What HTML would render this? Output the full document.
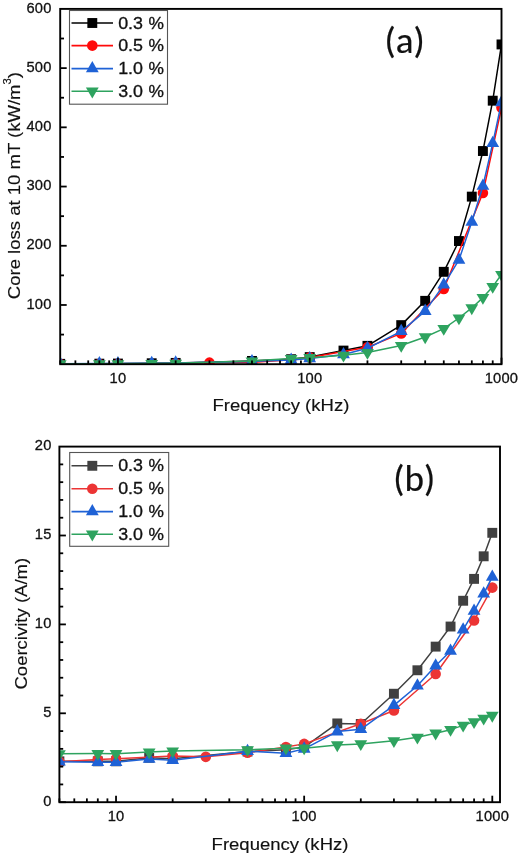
<!DOCTYPE html>
<html><head><meta charset="utf-8"><title>Core loss and coercivity vs frequency</title>
<style>
html,body{margin:0;padding:0;background:#fff;width:520px;height:855px;overflow:hidden}
svg{display:block}
.tk{font-family:"Liberation Sans", Arial, sans-serif;font-size:14.7px;fill:#111;letter-spacing:0.2px;stroke:#111;stroke-width:0.3px}
.lg{font-family:"Liberation Sans", Arial, sans-serif;font-size:15.8px;fill:#111;stroke:#111;stroke-width:0.3px}
.al{font-family:"Liberation Sans", Arial, sans-serif;font-size:16.4px;fill:#111;stroke:#111;stroke-width:0.15px}
.pl{font-family:"Carlito", "Liberation Sans", sans-serif;font-size:37px;fill:#111;stroke:#111;stroke-width:0.2px}
</style></head><body>
<svg width="520" height="855" viewBox="0 0 520 855">
<rect width="520" height="855" fill="#fff"/>
<clipPath id="ca"><rect x="60.2" y="8.9" width="441.3" height="355.3"/></clipPath>
<g clip-path="url(#ca)">
<polyline fill="none" stroke="#000000" stroke-width="1.5" stroke-linejoin="round" points="60.2,363.84 99.35,363.67 117.93,363.55 151.7,363.25 175.67,362.9 251.98,360.94 291.13,359.23 309.72,357.09 343.49,350.58 367.45,345.84 401.22,325.12 425.18,300.84 443.77,271.82 458.95,241.03 471.79,196.62 482.91,151.02 492.72,100.69 501.5,44.43"/>
<rect x="55.25" y="358.89" width="9.9" height="9.9" fill="#000000"/>
<rect x="94.4" y="358.72" width="9.9" height="9.9" fill="#000000"/>
<rect x="112.98" y="358.6" width="9.9" height="9.9" fill="#000000"/>
<rect x="146.75" y="358.3" width="9.9" height="9.9" fill="#000000"/>
<rect x="170.72" y="357.95" width="9.9" height="9.9" fill="#000000"/>
<rect x="247.03" y="355.99" width="9.9" height="9.9" fill="#000000"/>
<rect x="286.18" y="354.28" width="9.9" height="9.9" fill="#000000"/>
<rect x="304.77" y="352.14" width="9.9" height="9.9" fill="#000000"/>
<rect x="338.54" y="345.63" width="9.9" height="9.9" fill="#000000"/>
<rect x="362.5" y="340.89" width="9.9" height="9.9" fill="#000000"/>
<rect x="396.27" y="320.17" width="9.9" height="9.9" fill="#000000"/>
<rect x="420.23" y="295.89" width="9.9" height="9.9" fill="#000000"/>
<rect x="438.82" y="266.87" width="9.9" height="9.9" fill="#000000"/>
<rect x="454" y="236.08" width="9.9" height="9.9" fill="#000000"/>
<rect x="466.84" y="191.67" width="9.9" height="9.9" fill="#000000"/>
<rect x="477.96" y="146.07" width="9.9" height="9.9" fill="#000000"/>
<rect x="487.77" y="95.74" width="9.9" height="9.9" fill="#000000"/>
<rect x="496.55" y="39.48" width="9.9" height="9.9" fill="#000000"/>
<polyline fill="none" stroke="#ff0a0a" stroke-width="1.5" stroke-linejoin="round" points="60.2,364.08 99.35,364.02 117.93,363.96 175.67,363.31 209.44,362.66 251.98,362.42 291.13,359.76 309.72,357.39 367.45,347.32 401.22,333.41 443.77,288.99 482.91,193.06 501.5,107.79"/>
<circle cx="60.2" cy="364.08" r="5.3" fill="#ff0a0a"/>
<circle cx="99.35" cy="364.02" r="5.3" fill="#ff0a0a"/>
<circle cx="117.93" cy="363.96" r="5.3" fill="#ff0a0a"/>
<circle cx="175.67" cy="363.31" r="5.3" fill="#ff0a0a"/>
<circle cx="209.44" cy="362.66" r="5.3" fill="#ff0a0a"/>
<circle cx="251.98" cy="362.42" r="5.3" fill="#ff0a0a"/>
<circle cx="291.13" cy="359.76" r="5.3" fill="#ff0a0a"/>
<circle cx="309.72" cy="357.39" r="5.3" fill="#ff0a0a"/>
<circle cx="367.45" cy="347.32" r="5.3" fill="#ff0a0a"/>
<circle cx="401.22" cy="333.41" r="5.3" fill="#ff0a0a"/>
<circle cx="443.77" cy="288.99" r="5.3" fill="#ff0a0a"/>
<circle cx="482.91" cy="193.06" r="5.3" fill="#ff0a0a"/>
<circle cx="501.5" cy="107.79" r="5.3" fill="#ff0a0a"/>
<polyline fill="none" stroke="#1f62d6" stroke-width="1.5" stroke-linejoin="round" points="60.2,363.79 99.35,363.61 117.93,363.49 151.7,363.19 175.67,362.9 251.98,361.42 291.13,360.05 309.72,358.52 343.49,354.43 367.45,348.21 401.22,331.33 425.18,311.14 443.77,284.85 458.95,259.98 471.79,222.08 482.91,185.96 492.72,143.32 501.5,102.46"/>
<polygon points="60.2,356.25 66.6,367.55 53.8,367.55" fill="#1f62d6"/>
<polygon points="99.35,356.07 105.75,367.37 92.95,367.37" fill="#1f62d6"/>
<polygon points="117.93,355.96 124.33,367.26 111.53,367.26" fill="#1f62d6"/>
<polygon points="151.7,355.66 158.1,366.96 145.3,366.96" fill="#1f62d6"/>
<polygon points="175.67,355.36 182.07,366.66 169.27,366.66" fill="#1f62d6"/>
<polygon points="251.98,353.88 258.38,365.18 245.58,365.18" fill="#1f62d6"/>
<polygon points="291.13,352.52 297.53,363.82 284.73,363.82" fill="#1f62d6"/>
<polygon points="309.72,350.98 316.12,362.28 303.32,362.28" fill="#1f62d6"/>
<polygon points="343.49,346.9 349.89,358.2 337.09,358.2" fill="#1f62d6"/>
<polygon points="367.45,340.68 373.85,351.98 361.05,351.98" fill="#1f62d6"/>
<polygon points="401.22,323.8 407.62,335.1 394.82,335.1" fill="#1f62d6"/>
<polygon points="425.18,303.61 431.58,314.91 418.78,314.91" fill="#1f62d6"/>
<polygon points="443.77,277.32 450.17,288.62 437.37,288.62" fill="#1f62d6"/>
<polygon points="458.95,252.45 465.35,263.75 452.55,263.75" fill="#1f62d6"/>
<polygon points="471.79,214.55 478.19,225.85 465.39,225.85" fill="#1f62d6"/>
<polygon points="482.91,178.42 489.31,189.72 476.51,189.72" fill="#1f62d6"/>
<polygon points="492.72,135.79 499.12,147.09 486.32,147.09" fill="#1f62d6"/>
<polygon points="501.5,94.93 507.9,106.23 495.1,106.23" fill="#1f62d6"/>
<polyline fill="none" stroke="#2ea35f" stroke-width="1.5" stroke-linejoin="round" points="60.2,363.96 99.35,363.84 117.93,363.73 151.7,363.49 175.67,363.25 251.98,361 291.13,358.52 309.72,357.69 343.49,355.32 367.45,352.48 401.22,345.55 425.18,336.96 443.77,328.67 458.95,318.01 471.79,307.94 482.91,297.58 492.72,286.63 501.5,274.49"/>
<polygon points="53.8,360.36 66.6,360.36 60.2,371.16" fill="#2ea35f"/>
<polygon points="92.95,360.24 105.75,360.24 99.35,371.04" fill="#2ea35f"/>
<polygon points="111.53,360.13 124.33,360.13 117.93,370.93" fill="#2ea35f"/>
<polygon points="145.3,359.89 158.1,359.89 151.7,370.69" fill="#2ea35f"/>
<polygon points="169.27,359.65 182.07,359.65 175.67,370.45" fill="#2ea35f"/>
<polygon points="245.58,357.4 258.38,357.4 251.98,368.2" fill="#2ea35f"/>
<polygon points="284.73,354.92 297.53,354.92 291.13,365.72" fill="#2ea35f"/>
<polygon points="303.32,354.09 316.12,354.09 309.72,364.89" fill="#2ea35f"/>
<polygon points="337.09,351.72 349.89,351.72 343.49,362.52" fill="#2ea35f"/>
<polygon points="361.05,348.88 373.85,348.88 367.45,359.68" fill="#2ea35f"/>
<polygon points="394.82,341.95 407.62,341.95 401.22,352.75" fill="#2ea35f"/>
<polygon points="418.78,333.36 431.58,333.36 425.18,344.16" fill="#2ea35f"/>
<polygon points="437.37,325.07 450.17,325.07 443.77,335.87" fill="#2ea35f"/>
<polygon points="452.55,314.41 465.35,314.41 458.95,325.21" fill="#2ea35f"/>
<polygon points="465.39,304.34 478.19,304.34 471.79,315.14" fill="#2ea35f"/>
<polygon points="476.51,293.98 489.31,293.98 482.91,304.78" fill="#2ea35f"/>
<polygon points="486.32,283.03 499.12,283.03 492.72,293.83" fill="#2ea35f"/>
<polygon points="495.1,270.89 507.9,270.89 501.5,281.69" fill="#2ea35f"/>
</g>
<rect x="60.2" y="8.9" width="441.3" height="355.3" fill="none" stroke="#000" stroke-width="1.9"/>
<line x1="60.2" y1="304.98" x2="66.7" y2="304.98" stroke="#000" stroke-width="1.8"/>
<line x1="60.2" y1="245.77" x2="66.7" y2="245.77" stroke="#000" stroke-width="1.8"/>
<line x1="60.2" y1="186.55" x2="66.7" y2="186.55" stroke="#000" stroke-width="1.8"/>
<line x1="60.2" y1="127.33" x2="66.7" y2="127.33" stroke="#000" stroke-width="1.8"/>
<line x1="60.2" y1="68.12" x2="66.7" y2="68.12" stroke="#000" stroke-width="1.8"/>
<line x1="60.2" y1="334.59" x2="64" y2="334.59" stroke="#000" stroke-width="1.8"/>
<line x1="60.2" y1="275.38" x2="64" y2="275.38" stroke="#000" stroke-width="1.8"/>
<line x1="60.2" y1="216.16" x2="64" y2="216.16" stroke="#000" stroke-width="1.8"/>
<line x1="60.2" y1="156.94" x2="64" y2="156.94" stroke="#000" stroke-width="1.8"/>
<line x1="60.2" y1="97.72" x2="64" y2="97.72" stroke="#000" stroke-width="1.8"/>
<line x1="60.2" y1="38.51" x2="64" y2="38.51" stroke="#000" stroke-width="1.8"/>
<line x1="60.2" y1="364.2" x2="60.2" y2="360.4" stroke="#000" stroke-width="1.8"/>
<line x1="75.39" y1="364.2" x2="75.39" y2="360.4" stroke="#000" stroke-width="1.8"/>
<line x1="88.22" y1="364.2" x2="88.22" y2="360.4" stroke="#000" stroke-width="1.8"/>
<line x1="99.35" y1="364.2" x2="99.35" y2="360.4" stroke="#000" stroke-width="1.8"/>
<line x1="109.16" y1="364.2" x2="109.16" y2="360.4" stroke="#000" stroke-width="1.8"/>
<line x1="117.93" y1="364.2" x2="117.93" y2="357.7" stroke="#000" stroke-width="1.8"/>
<line x1="175.67" y1="364.2" x2="175.67" y2="360.4" stroke="#000" stroke-width="1.8"/>
<line x1="209.44" y1="364.2" x2="209.44" y2="360.4" stroke="#000" stroke-width="1.8"/>
<line x1="233.4" y1="364.2" x2="233.4" y2="360.4" stroke="#000" stroke-width="1.8"/>
<line x1="251.98" y1="364.2" x2="251.98" y2="360.4" stroke="#000" stroke-width="1.8"/>
<line x1="267.17" y1="364.2" x2="267.17" y2="360.4" stroke="#000" stroke-width="1.8"/>
<line x1="280.01" y1="364.2" x2="280.01" y2="360.4" stroke="#000" stroke-width="1.8"/>
<line x1="291.13" y1="364.2" x2="291.13" y2="360.4" stroke="#000" stroke-width="1.8"/>
<line x1="300.94" y1="364.2" x2="300.94" y2="360.4" stroke="#000" stroke-width="1.8"/>
<line x1="309.72" y1="364.2" x2="309.72" y2="357.7" stroke="#000" stroke-width="1.8"/>
<line x1="367.45" y1="364.2" x2="367.45" y2="360.4" stroke="#000" stroke-width="1.8"/>
<line x1="401.22" y1="364.2" x2="401.22" y2="360.4" stroke="#000" stroke-width="1.8"/>
<line x1="425.18" y1="364.2" x2="425.18" y2="360.4" stroke="#000" stroke-width="1.8"/>
<line x1="443.77" y1="364.2" x2="443.77" y2="360.4" stroke="#000" stroke-width="1.8"/>
<line x1="458.95" y1="364.2" x2="458.95" y2="360.4" stroke="#000" stroke-width="1.8"/>
<line x1="471.79" y1="364.2" x2="471.79" y2="360.4" stroke="#000" stroke-width="1.8"/>
<line x1="482.91" y1="364.2" x2="482.91" y2="360.4" stroke="#000" stroke-width="1.8"/>
<line x1="492.72" y1="364.2" x2="492.72" y2="360.4" stroke="#000" stroke-width="1.8"/>
<line x1="501.5" y1="364.2" x2="501.5" y2="357.7" stroke="#000" stroke-width="1.8"/>
<text x="51.5" y="308.68" text-anchor="end" class="tk">100</text>
<text x="51.5" y="249.47" text-anchor="end" class="tk">200</text>
<text x="51.5" y="190.25" text-anchor="end" class="tk">300</text>
<text x="51.5" y="131.03" text-anchor="end" class="tk">400</text>
<text x="51.5" y="71.82" text-anchor="end" class="tk">500</text>
<text x="51.5" y="12.6" text-anchor="end" class="tk">600</text>
<text x="117.93" y="383.3" text-anchor="middle" class="tk">10</text>
<text x="309.72" y="383.3" text-anchor="middle" class="tk">100</text>
<text x="501.5" y="383.3" text-anchor="middle" class="tk">1000</text>
<rect x="69.5" y="10.5" width="98.0" height="93.7" fill="#fff" stroke="#555" stroke-width="1.1"/>
<line x1="71.5" y1="23" x2="113" y2="23" stroke="#000000" stroke-width="1.6"/>
<rect x="87.35" y="18.05" width="9.9" height="9.9" fill="#000000"/>
<text transform="translate(118.2,28.6) scale(1.13,1)" class="lg">0.3</text>
<text transform="translate(148.5,28.6) scale(1.1,1)" class="lg">%</text>
<line x1="71.5" y1="45.6" x2="113" y2="45.6" stroke="#ff0a0a" stroke-width="1.6"/>
<circle cx="92.3" cy="45.6" r="5.3" fill="#ff0a0a"/>
<text transform="translate(118.2,51.2) scale(1.13,1)" class="lg">0.5</text>
<text transform="translate(148.5,51.2) scale(1.1,1)" class="lg">%</text>
<line x1="71.5" y1="68.6" x2="113" y2="68.6" stroke="#1f62d6" stroke-width="1.6"/>
<polygon points="92.3,61.07 98.7,72.37 85.9,72.37" fill="#1f62d6"/>
<text transform="translate(118.2,74.2) scale(1.13,1)" class="lg">1.0</text>
<text transform="translate(148.5,74.2) scale(1.1,1)" class="lg">%</text>
<line x1="71.5" y1="91.2" x2="113" y2="91.2" stroke="#2ea35f" stroke-width="1.6"/>
<polygon points="85.9,87.6 98.7,87.6 92.3,98.4" fill="#2ea35f"/>
<text transform="translate(118.2,96.8) scale(1.13,1)" class="lg">3.0</text>
<text transform="translate(148.5,96.8) scale(1.1,1)" class="lg">%</text>
<text x="404.6" y="53.3" text-anchor="middle" class="pl">(a)</text>
<text transform="translate(280.9,410.8) scale(1.13,1)" text-anchor="middle" class="al">Frequency (kHz)</text>
<text transform="translate(19.8,185.6) rotate(-90) scale(1.13,1)" text-anchor="middle" class="al">Core loss at 10 mT (kW/m<tspan dy="-8.6" font-size="10">3</tspan><tspan dy="8.6">)</tspan></text>
<clipPath id="cb"><rect x="59.4" y="446.6" width="440.6" height="355.6"/></clipPath>
<g clip-path="url(#cb)">
<polyline fill="none" stroke="#404040" stroke-width="1.5" stroke-linejoin="round" points="59.4,761.31 97.8,761.31 116.03,761.31 149.16,757.75 172.66,758.64 247.53,751.53 285.93,749.75 304.16,747.08 337.29,723.43 360.79,723.97 393.92,693.74 417.42,670.27 435.66,646.62 450.55,626.53 463.15,600.75 474.06,578.88 483.68,556.3 492.29,532.83"/>
<rect x="54.45" y="756.36" width="9.9" height="9.9" fill="#404040"/>
<rect x="92.85" y="756.36" width="9.9" height="9.9" fill="#404040"/>
<rect x="111.08" y="756.36" width="9.9" height="9.9" fill="#404040"/>
<rect x="144.21" y="752.8" width="9.9" height="9.9" fill="#404040"/>
<rect x="167.71" y="753.69" width="9.9" height="9.9" fill="#404040"/>
<rect x="242.58" y="746.58" width="9.9" height="9.9" fill="#404040"/>
<rect x="280.98" y="744.8" width="9.9" height="9.9" fill="#404040"/>
<rect x="299.21" y="742.13" width="9.9" height="9.9" fill="#404040"/>
<rect x="332.34" y="718.48" width="9.9" height="9.9" fill="#404040"/>
<rect x="355.84" y="719.02" width="9.9" height="9.9" fill="#404040"/>
<rect x="388.97" y="688.79" width="9.9" height="9.9" fill="#404040"/>
<rect x="412.47" y="665.32" width="9.9" height="9.9" fill="#404040"/>
<rect x="430.71" y="641.67" width="9.9" height="9.9" fill="#404040"/>
<rect x="445.6" y="621.58" width="9.9" height="9.9" fill="#404040"/>
<rect x="458.2" y="595.8" width="9.9" height="9.9" fill="#404040"/>
<rect x="469.11" y="573.93" width="9.9" height="9.9" fill="#404040"/>
<rect x="478.73" y="551.35" width="9.9" height="9.9" fill="#404040"/>
<rect x="487.34" y="527.88" width="9.9" height="9.9" fill="#404040"/>
<polyline fill="none" stroke="#ec3434" stroke-width="1.5" stroke-linejoin="round" points="59.4,761.84 97.8,759.53 116.03,758.64 172.66,755.97 205.79,756.86 247.53,752.77 285.93,747.08 304.16,743.88 360.79,723.79 393.92,710.46 435.66,674.01 474.06,620.49 492.29,587.6"/>
<circle cx="59.4" cy="761.84" r="5.3" fill="#ec3434"/>
<circle cx="97.8" cy="759.53" r="5.3" fill="#ec3434"/>
<circle cx="116.03" cy="758.64" r="5.3" fill="#ec3434"/>
<circle cx="172.66" cy="755.97" r="5.3" fill="#ec3434"/>
<circle cx="205.79" cy="756.86" r="5.3" fill="#ec3434"/>
<circle cx="247.53" cy="752.77" r="5.3" fill="#ec3434"/>
<circle cx="285.93" cy="747.08" r="5.3" fill="#ec3434"/>
<circle cx="304.16" cy="743.88" r="5.3" fill="#ec3434"/>
<circle cx="360.79" cy="723.79" r="5.3" fill="#ec3434"/>
<circle cx="393.92" cy="710.46" r="5.3" fill="#ec3434"/>
<circle cx="435.66" cy="674.01" r="5.3" fill="#ec3434"/>
<circle cx="474.06" cy="620.49" r="5.3" fill="#ec3434"/>
<circle cx="492.29" cy="587.6" r="5.3" fill="#ec3434"/>
<polyline fill="none" stroke="#1f62d6" stroke-width="1.5" stroke-linejoin="round" points="59.4,761.84 97.8,762.2 116.03,762.2 149.16,758.99 172.66,760.24 247.53,751.17 285.93,753.31 304.16,748.86 337.29,731.61 360.79,729.3 393.92,705.3 417.42,685.74 435.66,665.83 450.55,651.07 463.15,629.73 474.06,611.07 483.68,593.82 492.29,576.93"/>
<polygon points="59.4,754.31 65.8,765.61 53,765.61" fill="#1f62d6"/>
<polygon points="97.8,754.66 104.2,765.96 91.4,765.96" fill="#1f62d6"/>
<polygon points="116.03,754.66 122.43,765.96 109.63,765.96" fill="#1f62d6"/>
<polygon points="149.16,751.46 155.56,762.76 142.76,762.76" fill="#1f62d6"/>
<polygon points="172.66,752.71 179.06,764.01 166.26,764.01" fill="#1f62d6"/>
<polygon points="247.53,743.64 253.93,754.94 241.13,754.94" fill="#1f62d6"/>
<polygon points="285.93,745.77 292.33,757.07 279.53,757.07" fill="#1f62d6"/>
<polygon points="304.16,741.33 310.56,752.63 297.76,752.63" fill="#1f62d6"/>
<polygon points="337.29,724.08 343.69,735.38 330.89,735.38" fill="#1f62d6"/>
<polygon points="360.79,721.77 367.19,733.07 354.39,733.07" fill="#1f62d6"/>
<polygon points="393.92,697.77 400.32,709.07 387.52,709.07" fill="#1f62d6"/>
<polygon points="417.42,678.21 423.82,689.51 411.02,689.51" fill="#1f62d6"/>
<polygon points="435.66,658.29 442.06,669.59 429.26,669.59" fill="#1f62d6"/>
<polygon points="450.55,643.54 456.95,654.84 444.15,654.84" fill="#1f62d6"/>
<polygon points="463.15,622.2 469.55,633.5 456.75,633.5" fill="#1f62d6"/>
<polygon points="474.06,603.53 480.46,614.83 467.66,614.83" fill="#1f62d6"/>
<polygon points="483.68,586.29 490.08,597.59 477.28,597.59" fill="#1f62d6"/>
<polygon points="492.29,569.39 498.69,580.69 485.89,580.69" fill="#1f62d6"/>
<polyline fill="none" stroke="#2ea35f" stroke-width="1.5" stroke-linejoin="round" points="59.4,753.84 97.8,753.48 116.03,753.66 149.16,752.06 172.66,750.99 247.53,749.75 285.93,748.15 304.16,748.15 337.29,744.95 360.79,743.88 393.92,740.86 417.42,737.3 435.66,733.21 450.55,729.66 463.15,725.39 474.06,721.83 483.68,718.28 492.29,715.43"/>
<polygon points="53,750.24 65.8,750.24 59.4,761.04" fill="#2ea35f"/>
<polygon points="91.4,749.88 104.2,749.88 97.8,760.68" fill="#2ea35f"/>
<polygon points="109.63,750.06 122.43,750.06 116.03,760.86" fill="#2ea35f"/>
<polygon points="142.76,748.46 155.56,748.46 149.16,759.26" fill="#2ea35f"/>
<polygon points="166.26,747.39 179.06,747.39 172.66,758.19" fill="#2ea35f"/>
<polygon points="241.13,746.15 253.93,746.15 247.53,756.95" fill="#2ea35f"/>
<polygon points="279.53,744.55 292.33,744.55 285.93,755.35" fill="#2ea35f"/>
<polygon points="297.76,744.55 310.56,744.55 304.16,755.35" fill="#2ea35f"/>
<polygon points="330.89,741.35 343.69,741.35 337.29,752.15" fill="#2ea35f"/>
<polygon points="354.39,740.28 367.19,740.28 360.79,751.08" fill="#2ea35f"/>
<polygon points="387.52,737.26 400.32,737.26 393.92,748.06" fill="#2ea35f"/>
<polygon points="411.02,733.7 423.82,733.7 417.42,744.5" fill="#2ea35f"/>
<polygon points="429.26,729.61 442.06,729.61 435.66,740.41" fill="#2ea35f"/>
<polygon points="444.15,726.06 456.95,726.06 450.55,736.86" fill="#2ea35f"/>
<polygon points="456.75,721.79 469.55,721.79 463.15,732.59" fill="#2ea35f"/>
<polygon points="467.66,718.23 480.46,718.23 474.06,729.03" fill="#2ea35f"/>
<polygon points="477.28,714.68 490.08,714.68 483.68,725.48" fill="#2ea35f"/>
<polygon points="485.89,711.83 498.69,711.83 492.29,722.63" fill="#2ea35f"/>
</g>
<rect x="59.4" y="446.6" width="440.6" height="355.6" fill="none" stroke="#000" stroke-width="1.9"/>
<line x1="59.4" y1="802.2" x2="65.9" y2="802.2" stroke="#000" stroke-width="1.8"/>
<line x1="59.4" y1="713.3" x2="65.9" y2="713.3" stroke="#000" stroke-width="1.8"/>
<line x1="59.4" y1="624.4" x2="65.9" y2="624.4" stroke="#000" stroke-width="1.8"/>
<line x1="59.4" y1="535.5" x2="65.9" y2="535.5" stroke="#000" stroke-width="1.8"/>
<line x1="59.4" y1="784.42" x2="63.2" y2="784.42" stroke="#000" stroke-width="1.8"/>
<line x1="59.4" y1="766.64" x2="63.2" y2="766.64" stroke="#000" stroke-width="1.8"/>
<line x1="59.4" y1="748.86" x2="63.2" y2="748.86" stroke="#000" stroke-width="1.8"/>
<line x1="59.4" y1="731.08" x2="63.2" y2="731.08" stroke="#000" stroke-width="1.8"/>
<line x1="59.4" y1="695.52" x2="63.2" y2="695.52" stroke="#000" stroke-width="1.8"/>
<line x1="59.4" y1="677.74" x2="63.2" y2="677.74" stroke="#000" stroke-width="1.8"/>
<line x1="59.4" y1="659.96" x2="63.2" y2="659.96" stroke="#000" stroke-width="1.8"/>
<line x1="59.4" y1="642.18" x2="63.2" y2="642.18" stroke="#000" stroke-width="1.8"/>
<line x1="59.4" y1="606.62" x2="63.2" y2="606.62" stroke="#000" stroke-width="1.8"/>
<line x1="59.4" y1="588.84" x2="63.2" y2="588.84" stroke="#000" stroke-width="1.8"/>
<line x1="59.4" y1="571.06" x2="63.2" y2="571.06" stroke="#000" stroke-width="1.8"/>
<line x1="59.4" y1="553.28" x2="63.2" y2="553.28" stroke="#000" stroke-width="1.8"/>
<line x1="59.4" y1="517.72" x2="63.2" y2="517.72" stroke="#000" stroke-width="1.8"/>
<line x1="59.4" y1="499.94" x2="63.2" y2="499.94" stroke="#000" stroke-width="1.8"/>
<line x1="59.4" y1="482.16" x2="63.2" y2="482.16" stroke="#000" stroke-width="1.8"/>
<line x1="59.4" y1="464.38" x2="63.2" y2="464.38" stroke="#000" stroke-width="1.8"/>
<line x1="59.4" y1="802.2" x2="59.4" y2="798.4" stroke="#000" stroke-width="1.8"/>
<line x1="74.3" y1="802.2" x2="74.3" y2="798.4" stroke="#000" stroke-width="1.8"/>
<line x1="86.89" y1="802.2" x2="86.89" y2="798.4" stroke="#000" stroke-width="1.8"/>
<line x1="97.8" y1="802.2" x2="97.8" y2="798.4" stroke="#000" stroke-width="1.8"/>
<line x1="107.42" y1="802.2" x2="107.42" y2="798.4" stroke="#000" stroke-width="1.8"/>
<line x1="116.03" y1="802.2" x2="116.03" y2="795.7" stroke="#000" stroke-width="1.8"/>
<line x1="172.66" y1="802.2" x2="172.66" y2="798.4" stroke="#000" stroke-width="1.8"/>
<line x1="205.79" y1="802.2" x2="205.79" y2="798.4" stroke="#000" stroke-width="1.8"/>
<line x1="229.3" y1="802.2" x2="229.3" y2="798.4" stroke="#000" stroke-width="1.8"/>
<line x1="247.53" y1="802.2" x2="247.53" y2="798.4" stroke="#000" stroke-width="1.8"/>
<line x1="262.42" y1="802.2" x2="262.42" y2="798.4" stroke="#000" stroke-width="1.8"/>
<line x1="275.02" y1="802.2" x2="275.02" y2="798.4" stroke="#000" stroke-width="1.8"/>
<line x1="285.93" y1="802.2" x2="285.93" y2="798.4" stroke="#000" stroke-width="1.8"/>
<line x1="295.55" y1="802.2" x2="295.55" y2="798.4" stroke="#000" stroke-width="1.8"/>
<line x1="304.16" y1="802.2" x2="304.16" y2="795.7" stroke="#000" stroke-width="1.8"/>
<line x1="360.79" y1="802.2" x2="360.79" y2="798.4" stroke="#000" stroke-width="1.8"/>
<line x1="393.92" y1="802.2" x2="393.92" y2="798.4" stroke="#000" stroke-width="1.8"/>
<line x1="417.42" y1="802.2" x2="417.42" y2="798.4" stroke="#000" stroke-width="1.8"/>
<line x1="435.66" y1="802.2" x2="435.66" y2="798.4" stroke="#000" stroke-width="1.8"/>
<line x1="450.55" y1="802.2" x2="450.55" y2="798.4" stroke="#000" stroke-width="1.8"/>
<line x1="463.15" y1="802.2" x2="463.15" y2="798.4" stroke="#000" stroke-width="1.8"/>
<line x1="474.06" y1="802.2" x2="474.06" y2="798.4" stroke="#000" stroke-width="1.8"/>
<line x1="483.68" y1="802.2" x2="483.68" y2="798.4" stroke="#000" stroke-width="1.8"/>
<line x1="492.29" y1="802.2" x2="492.29" y2="795.7" stroke="#000" stroke-width="1.8"/>
<text x="51.6" y="805.9" text-anchor="end" class="tk">0</text>
<text x="51.6" y="717" text-anchor="end" class="tk">5</text>
<text x="51.6" y="628.1" text-anchor="end" class="tk">10</text>
<text x="51.6" y="539.2" text-anchor="end" class="tk">15</text>
<text x="51.6" y="450.3" text-anchor="end" class="tk">20</text>
<text x="116.03" y="821.3" text-anchor="middle" class="tk">10</text>
<text x="304.16" y="821.3" text-anchor="middle" class="tk">100</text>
<text x="492.29" y="821.3" text-anchor="middle" class="tk">1000</text>
<rect x="69.7" y="452.5" width="98.99999999999999" height="93.79999999999995" fill="#fff" stroke="#555" stroke-width="1.1"/>
<line x1="71.5" y1="465.8" x2="113" y2="465.8" stroke="#404040" stroke-width="1.6"/>
<rect x="87.35" y="460.85" width="9.9" height="9.9" fill="#404040"/>
<text transform="translate(118.2,471.4) scale(1.13,1)" class="lg">0.3</text>
<text transform="translate(148.5,471.4) scale(1.1,1)" class="lg">%</text>
<line x1="71.5" y1="488.7" x2="113" y2="488.7" stroke="#ec3434" stroke-width="1.6"/>
<circle cx="92.3" cy="488.7" r="5.3" fill="#ec3434"/>
<text transform="translate(118.2,494.3) scale(1.13,1)" class="lg">0.5</text>
<text transform="translate(148.5,494.3) scale(1.1,1)" class="lg">%</text>
<line x1="71.5" y1="511.6" x2="113" y2="511.6" stroke="#1f62d6" stroke-width="1.6"/>
<polygon points="92.3,504.07 98.7,515.37 85.9,515.37" fill="#1f62d6"/>
<text transform="translate(118.2,517.2) scale(1.13,1)" class="lg">1.0</text>
<text transform="translate(148.5,517.2) scale(1.1,1)" class="lg">%</text>
<line x1="71.5" y1="534.2" x2="113" y2="534.2" stroke="#2ea35f" stroke-width="1.6"/>
<polygon points="85.9,530.6 98.7,530.6 92.3,541.4" fill="#2ea35f"/>
<text transform="translate(118.2,539.8) scale(1.13,1)" class="lg">3.0</text>
<text transform="translate(148.5,539.8) scale(1.1,1)" class="lg">%</text>
<text x="414.2" y="491" text-anchor="middle" class="pl">(b)</text>
<text transform="translate(280,850.2) scale(1.13,1)" text-anchor="middle" class="al">Frequency (kHz)</text>
<text transform="translate(27.3,623.7) rotate(-90) scale(1.13,1)" text-anchor="middle" class="al">Coercivity (A/m)</text>
</svg>
</body></html>
